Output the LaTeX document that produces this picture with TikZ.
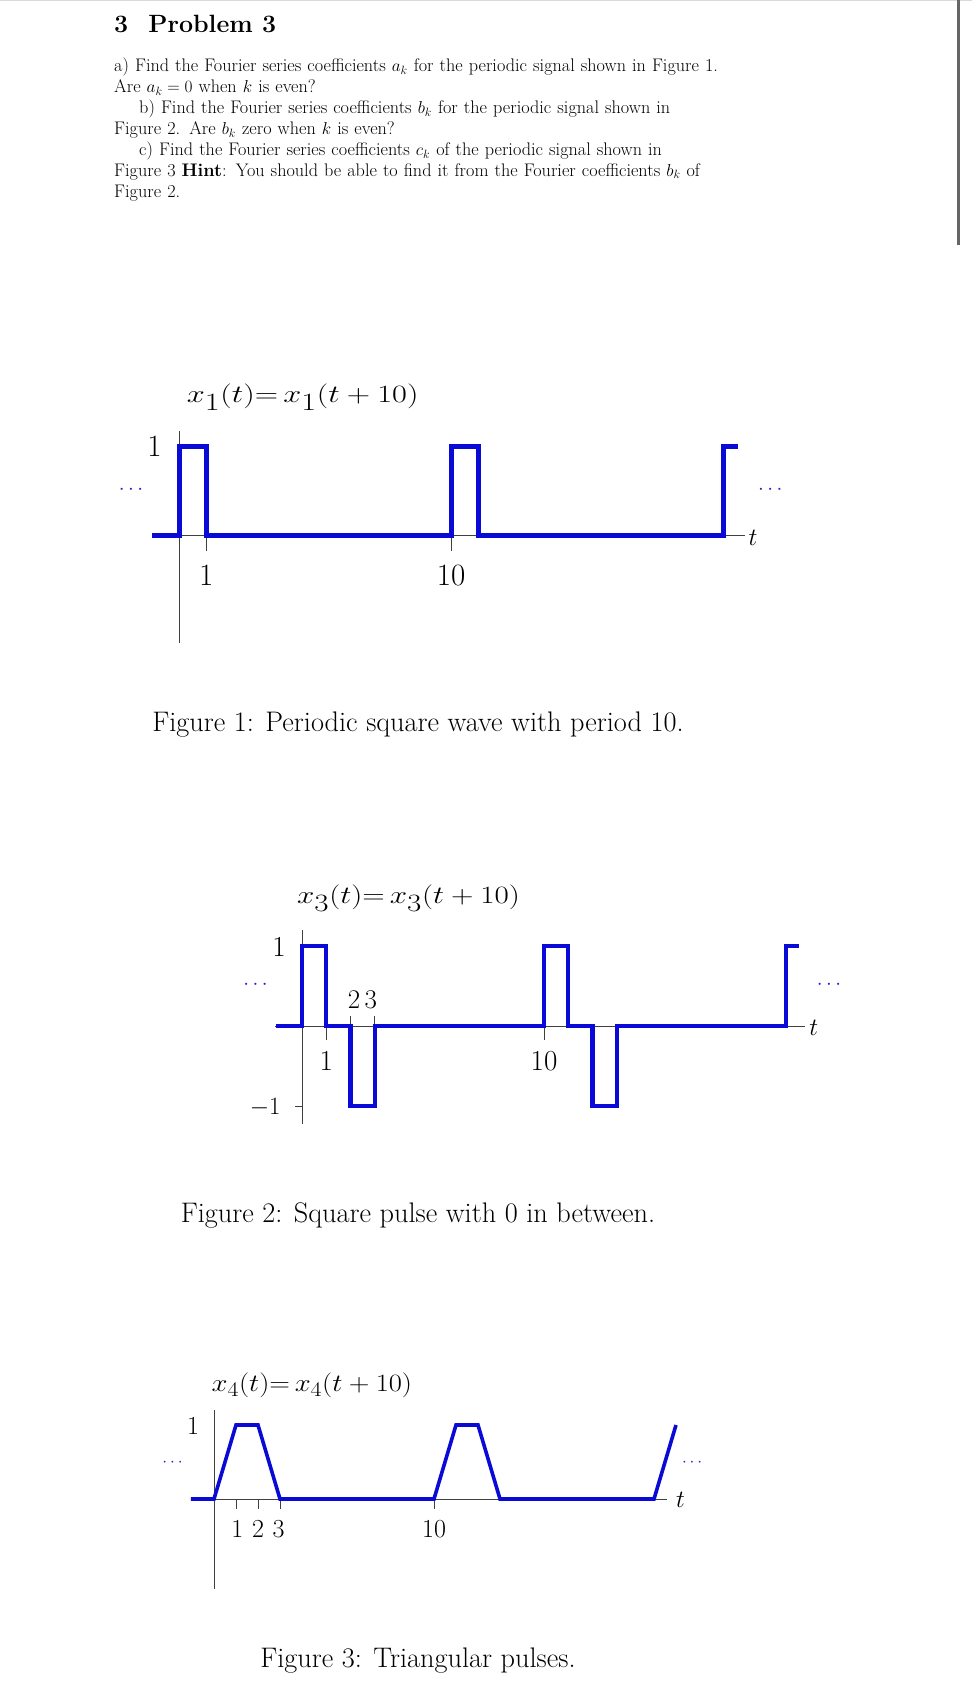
\documentclass[tikz,border=0pt]{standalone}
\usepackage{amsmath}
\usepackage{graphicx}
\newcommand{\fsz}[1]{\fontsize{#1}{#1}\selectfont}
\definecolor{sig}{RGB}{10,10,215}
\tikzset{
  sigline/.style={sig, line width=#1, line join=miter},
  axis/.style={black!75, line width=0.9pt},
  tick/.style={black!75, line width=0.9pt},
  dots/.style={sig!80!gray, font=\fsz{22}\bfseries},
}
\begin{document}
\begin{tikzpicture}[x=1pt,y=-1pt]
\useasboundingbox (0,0) rectangle (972,1697);
\fill[white] (0,0) rectangle (972,1697);
\draw[black!15, line width=0.8pt] (0,0.5) -- (972,0.5);
\draw[black!60, line width=3pt] (958,0) -- (958,245);
% heading
\node[anchor=west, inner sep=0, font=\fsz{25}\bfseries] (head) at (114,24) {3\hspace{20pt}Problem 3};
\node[anchor=north west, inner sep=0, text width=605pt, font=\fontsize{18.2}{20.9}\selectfont] (body) at (114,58) {%
\setlength{\parindent}{25pt}\noindent a) Find the Fourier series coefficients $a_k$ for the periodic signal shown in Figure 1.\linebreak Are $a_k = 0$ when $k$ is even?\par
b) Find the Fourier series coefficients $b_k$ for the periodic signal shown in\linebreak Figure 2. Are $b_k$ zero when $k$ is even?\par
c) Find the Fourier series coefficients $c_k$ of the periodic signal shown in\linebreak Figure 3 \textbf{Hint}: You should be able to find it from the Fourier coefficients $b_k$ of\linebreak Figure 2.};
% ---------- Figure 1
\begin{scope}[shift={(179,535)}, x=27.2pt, y=89pt]
  \draw[axis] (0,1.17) -- (0,-1.21);
  \draw[axis] (-1,0) -- (20.8,0);
  \draw[tick] (1,0) -- (1,-0.18);
  \draw[tick] (10,0) -- (10,-0.18);
  \draw[sigline=5pt] (-1.0,0) -- (0,0) -- (0,1) -- (1,1) -- (1,0) -- (10,0) -- (10,1) -- (11,1) -- (11,0) -- (20,0) -- (20,1) -- (20.55,1);
  \node[font=\fsz{31}] (f1one) at (-0.9,1.0) {1};
  \node[font=\fsz{31}] (f1t1) at (1,-0.45) {1};
  \node[font=\fsz{31}] (f1t10) at (10,-0.45) {10};
  \node[font=\fsz{31}] (f1t) at (21.1,-0.03) {$t$};
  \node[dots] (f1dl) at (-1.7,0.51) {$\cdots$};
  \node[dots] (f1dr) at (21.8,0.51) {$\cdots$};
  \node[font=\fsz{40}] (f1title) at (4.55,1.55) {\scalebox{1.3}[1]{$x_1(t){=}\,x_1(t+10)$}};
\end{scope}
\node[font=\fsz{28.3}] (cap1) at (418,725) {Figure 1: Periodic square wave with period 10.};
% ---------- Figure 2
\begin{scope}[shift={(302,1026)}, x=24.2pt, y=80pt]
  \draw[axis] (0,1.2) -- (0,-1.23);
  \draw[axis] (-1.1,0) -- (20.8,0);
  \draw[tick] (1,0) -- (1,-0.17);
  \draw[tick] (2,0) -- (2,0.13);
  \draw[tick] (3,0) -- (3,0.13);
  \draw[tick] (10,0) -- (10,-0.17);
  \draw[tick] (0,-1) -- (-0.3,-1);
  \draw[sigline=4.2pt] (-1.08,0) -- (0,0) -- (0,1) -- (1,1) -- (1,0) -- (2,0) -- (2,-1) -- (3,-1) -- (3,0) -- (10,0) -- (10,1) -- (11,1) -- (11,0) -- (12,0) -- (12,-1) -- (13,-1) -- (13,0) -- (20,0) -- (20,1) -- (20.55,1);
  \node[font=\fsz{29}] (f2one) at (-0.95,0.99) {1};
  \node[font=\fsz{29}] (f2mone) at (-1.52,-1.02) {$-1$};
  \node[font=\fsz{27}] (f2t23) at (2.5,0.33) {2\,3};
  \node[font=\fsz{29}] (f2t1) at (1,-0.44) {1};
  \node[font=\fsz{29}] (f2t10) at (10,-0.44) {10};
  \node[font=\fsz{29}] (f2t) at (21.15,-0.02) {$t$};
  \node[dots] (f2dl) at (-1.85,0.51) {$\cdots$};
  \node[dots] (f2dr) at (21.85,0.51) {$\cdots$};
  \node[font=\fsz{35}] (f2title) at (4.4,1.6) {\scalebox{1.25}[1]{$x_3(t){=}\,x_3(t+10)$}};
\end{scope}
\node[font=\fsz{28.3}] (cap2) at (418,1215) {Figure 2: Square pulse with 0 in between.};
% ---------- Figure 3
\begin{scope}[shift={(214,1499)}, x=22pt, y=74pt]
  \draw[axis] (0,1.2) -- (0,-1.22);
  \draw[axis] (-1.05,0) -- (20.6,0);
  \foreach \k in {1,2,3,10} \draw[tick] (\k,0) -- (\k,-0.13);
  \draw[sigline=3.6pt] (-1.05,0) -- (0,0) -- (1,1) -- (2,1) -- (3,0) -- (10,0) -- (11,1) -- (12,1) -- (13,0) -- (20,0) -- (21,1);
  \node[font=\fsz{26}] (f3one) at (-0.95,0.99) {1};
  \node[font=\fsz{26}] (f3t123) at (2,-0.41) {1\,\,2\,\,3};
  \node[font=\fsz{26}] (f3t10) at (10,-0.41) {10};
  \node[font=\fsz{26}] (f3t) at (21.2,-0.01) {$t$};
  \node[dots, font=\fsz{18}\bfseries] (f3dl) at (-1.82,0.49) {$\cdots$};
  \node[dots, font=\fsz{18}\bfseries] (f3dr) at (21.8,0.49) {$\cdots$};
  \node[font=\fsz{30}] (f3title) at (4.45,1.54) {\scalebox{1.15}[1]{$x_4(t){=}\,x_4(t+10)$}};
\end{scope}
\node[font=\fsz{28.3}] (cap3) at (418,1661) {Figure 3: Triangular pulses.};
\end{tikzpicture}
\end{document}
